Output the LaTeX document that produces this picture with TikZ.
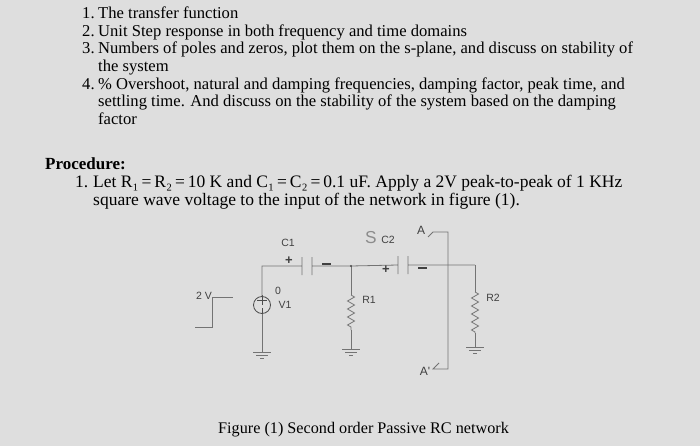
\documentclass[tikz,border=0pt]{standalone}
\usepackage{fontspec}
\setmainfont{Liberation Serif}
\newfontfamily\ckt{Liberation Sans}
\usetikzlibrary{decorations.pathmorphing}
\begin{document}
\begin{tikzpicture}[x=1pt,y=-1pt,
  txt/.style={anchor=base west,inner sep=0pt,font=\fontsize{16.6}{18}\selectfont},
  ptxt/.style={anchor=base west,inner sep=0pt,font=\fontsize{17.5}{18}\selectfont},
  lbl/.style={inner sep=0pt,font=\ckt\fontsize{10.5}{11}\selectfont,text=black!75},
  pm/.style={inner sep=0pt,font=\ckt\bfseries\fontsize{13}{13}\selectfont,text=black!75},
  mbar/.style={draw=black!75,line width=1.6pt},
  wire/.style={draw=black!55,line width=0.8pt},
  res/.style={wire,decorate,decoration={zigzag,segment length=8pt,amplitude=3.5pt}}]
\fill[black!13] (0,0) rectangle (700,446);
\useasboundingbox (0,0) rectangle (700,446);
% numbered list
\node[txt] (n1) at (82,19) {1.}; \node[txt] (t1) at (98,19) {The transfer function};
\node[txt] (n2) at (82,37) {2.}; \node[txt] (t2) at (98,37) {Unit Step response in both frequency and time domains};
\node[txt] (n3) at (82,54) {3.}; \node[txt] (t3) at (98,54) {Numbers of poles and zeros, plot them on the s-plane, and discuss on stability of};
\node[txt] (t3b) at (98,72) {the system};
\node[txt] (n4) at (82,90) {4.}; \node[txt] (t4) at (98,90) {\% Overshoot, natural and damping frequencies, damping factor, peak time, and};
\node[txt] (t4b) at (98,107) {settling time. And discuss on the stability of the system based on the damping};
\node[txt] (t4c) at (98,125) {factor};
\node[ptxt,font=\bfseries\fontsize{17}{18}\selectfont] (proc) at (45,170) {Procedure:};
\node[ptxt] (p1) at (75,188) {1.};
\node[ptxt] (p1t) at (93,188) {Let R₁\,=\,R₂\,=\,10 K and C₁\,=\,C₂\,=\,0.1 uF. Apply a 2V peak-to-peak of 1 KHz};
\node[ptxt] (p1u) at (93,205) {square wave voltage to the input of the network in figure (1).};
\node[txt,font=\fontsize{16.2}{18}\selectfont] (cap) at (218,433) {Figure (1) Second order Passive RC network};
% circuit
\coordinate (vt) at (262,266);
\node[draw=black!70,line width=0.8pt,circle,minimum size=17pt,inner sep=0pt] (v1) at (262,305) {};
\draw[black!70,line width=1pt] (257,300)--(267,300) (262,295)--(262,305) (262,308)--(262,314);
\coordinate (j1) at (351,266);
\coordinate (j2) at (475,265);
\draw[wire] (v1.north)--(vt)--(302,266) (302,257)--(302,275) (312,257)--(312,275) (312,266)--(j1)--(398,265)
  (398,256)--(398,274) (408,256)--(408,274) (408,265)--(j2);
\draw[wire] (v1.south)--(262,352);
\draw[wire] (j1)--(351,295); \draw[res] (351,295)--(351,330); \draw[wire] (351,330)--(351,349);
\draw[wire] (j2)--(475,292); \draw[res] (475,292)--(475,333); \draw[wire] (475,333)--(475,347);
\foreach \gx/\gy in {262/352,351/349,475/347}{
  \draw[wire] (\gx-9,\gy)--(\gx+9,\gy) (\gx-6,\gy+3)--(\gx+6,\gy+3) (\gx-2,\gy+6)--(\gx+2,\gy+6);}
\fill[black!70] (j1) circle (1.2pt);
\node[lbl] (c1) at (288,243) {C1};
\node[pm] (c1p) at (289,261) {+};
\draw[mbar] (322,264)--(331,264);
\node[lbl] (c2) at (388,240) {C2};
\node[lbl,font=\ckt\LARGE,text=black!45] (s) at (371,238) {S};
\node[pm] (c2p) at (386,270) {+};
\draw[mbar] (418,268)--(427,268);
\node[lbl] (r1) at (369,300) {R1};
\node[lbl] (r2) at (493,298) {R2};
\node[lbl] (zero) at (278,291) {0};
\node[lbl] (v1l) at (285,305) {V1};
\node[lbl] (v2) at (204,296) {2 V};
\draw[wire] (195,327)--(212,327)--(212,297)--(233,297);
\node[lbl,font=\ckt\fontsize{12}{12}\selectfont] (a) at (421,230) {A};
\node[lbl,font=\ckt\fontsize{12}{12}\selectfont] (ap) at (425,371) {A'};
\draw[wire] (428,237)--(433,232)--(448,232)--(448,369)--(433,369)--(439,363);
\end{tikzpicture}
\end{document}
